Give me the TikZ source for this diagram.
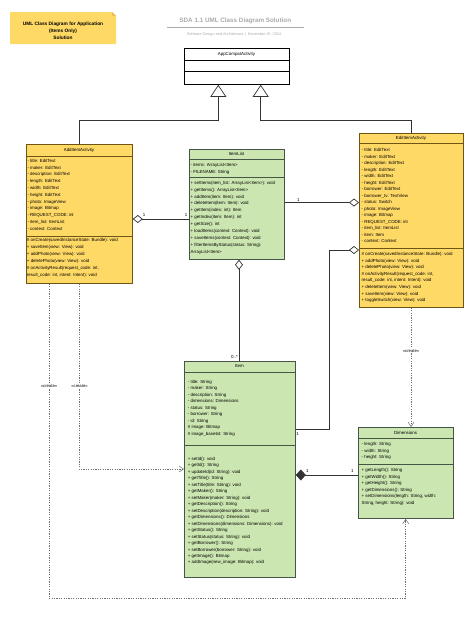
\documentclass[tikz,border=0pt]{standalone}
\usepackage{fontspec}
\setmainfont{Liberation Sans}
\usetikzlibrary{arrows.meta}
\definecolor{ylw}{RGB}{255,217,102}
\definecolor{ylwb}{RGB}{110,85,20}
\definecolor{grn}{RGB}{203,230,176}
\definecolor{grnb}{RGB}{70,85,70}
\definecolor{ttl}{RGB}{170,170,170}
\definecolor{dep}{RGB}{110,110,110}
\begin{document}
\begin{tikzpicture}[x=1pt,y=-1pt,
  boxbase/.style={rectangle, inner sep=0pt, line width=0.8pt, anchor=north west},
  ybox/.style={boxbase, draw=ylwb, fill=ylw},
  gbox/.style={boxbase, draw=grnb, fill=grn},
  wbox/.style={boxbase, draw=black, fill=white},
  sep/.style={line width=0.8pt},
  hdr/.style={inner sep=0pt, font=\fontsize{4.4}{5}\selectfont},
  txt/.style={inner sep=0pt, anchor=north west, align=left, font=\fontsize{4.4}{#1}\selectfont},
  txt/.default=6.5,
  lbl/.style={inner sep=0pt, font=\fontsize{4.4}{5}\selectfont},
  crt/.style={inner sep=0.6pt, fill=white, font=\fontsize{4.2}{5}\selectfont},
  assoc/.style={line width=0.7pt, draw=black!80},
  aggr/.style={assoc, {Diamond[open,length=10pt,width=8pt,line width=0.7pt]}-},
  comp/.style={assoc, {Diamond[length=10pt,width=11pt]}-},
  gen/.style={assoc, -{Triangle[open,length=12pt,width=16pt,line width=0.7pt]}},
  depline/.style={line width=0.55pt, draw=dep, dash pattern=on 1.2pt off 1.2pt, -{Straight Barb[length=4.5pt,width=6pt,line width=0.55pt]}}
]
\useasboundingbox (0,0) rectangle (474,632);

% note
\fill[ylw] (10,12) -- (112,12) -- (116,16) -- (116,44) -- (10,44) -- cycle;
\fill[ylw!70!brown] (112,12) -- (112,16) -- (116,16) -- cycle;
\node[inner sep=0pt, align=center, font=\fontsize{4.8}{6.7}\bfseries\selectfont] (note) at (63,30.7) {UML Class Diagram for Application\\(Items Only)\\Solution};

% title
\node[inner sep=0pt, text=ttl, font=\fontsize{6.3}{8}\bfseries\selectfont] (title) at (235.3,21) {SDA 1.1 UML Class Diagram Solution};
\draw[ttl, line width=0.9pt] (166.7,27.3) -- (304,27.3);
\node[inner sep=0pt, text=ttl, font=\fontsize{3.8}{4.5}\selectfont] (sub) at (234,35) {Software Design and Architecture \,|\, November 25, 2024};

% AppCompatActivity
\node[wbox, minimum width=105pt, minimum height=36pt] (app) at (184,48) {};
\draw[sep] (184,60) -- (289,60);
\draw[sep] (184,71.7) -- (289,71.7);
\node[hdr] (appT) at (236.5,54) {AppCompatActivity};

% AddItemActivity
\node[ybox, minimum width=106pt, minimum height=139pt] (add) at (26,144) {};
\draw[sep, ylwb] (26,156) -- (132,156);
\draw[sep, ylwb] (26,236.7) -- (132,236.7);
\node[hdr] (addT) at (79,150) {AddItemActivity};
\node[txt=6.8] (addA) at (27.3,158.9) {- title: EditText\\- maker: EditText\\- description: EditText\\- length: EditText\\- width: EditText\\- height: EditText\\- photo: ImageView\\- image: Bitmap\\- REQUEST\_CODE: int\\- item\_list: ItemList\\- context: Context};
\node[txt=6.9] (addM) at (26.8,238.4) {\# onCreate(savedInstanceState: Bundle): void\\+ saveItem(view: View): void\\+ addPhoto(view: View): void\\+ deletePhoto(view: View): void\\\# onActivityResult(request\_code: int,\\result\_code: int, intent: Intent): void};

% ItemList
\node[gbox, minimum width=95pt, minimum height=110pt] (list) at (189,149) {};
\draw[sep, grnb] (189,159) -- (284,159);
\draw[sep, grnb] (189,177) -- (284,177);
\node[hdr] (listT) at (236.5,154) {ItemList};
\node[txt=7.2] (listA) at (190.5,163.2) {- items: ArrayList<Item>\\- FILENAME: String};
\node[txt=6.9] (listM) at (190.5,180.9) {+ setItems(item\_list: ArrayList<Item>): void\\+ getItems(): ArrayList<Item>\\+ addItem(item: Item): void\\+ deleteItem(item: Item): void\\+ getItem(index: int): Item\\+ getIndex(item: Item): int\\+ getSize(): int\\+ loadItems(context: Context): void\\+ saveItems(context: Context): void\\+ filterItemsByStatus(status: String):\\ArrayList<Item>};

% EditItemActivity
\node[ybox, minimum width=104pt, minimum height=174pt] (edit) at (359,133) {};
\draw[sep, ylwb] (359,143) -- (463,143);
\draw[sep, ylwb] (359,248) -- (463,248);
\node[hdr] (editT) at (411,138) {EditItemActivity};
\node[txt=6.5] (editA) at (361.5,148.2) {- title: EditText\\- maker: EditText\\- description: EditText\\- length: EditText\\- width: EditText\\- height: EditText\\- borrower: EditText\\- borrower\_tv: TextView\\- status: Switch\\- photo: ImageView\\- image: Bitmap\\- REQUEST\_CODE: int\\- item\_list: ItemList\\- item: Item\\- context: Context};
\node[txt=6.52] (editM) at (361.5,252.5) {\# onCreate(savedInstanceState: Bundle): void\\+ addPhoto(view: View): void\\+ deletePhoto(view: View): void\\\# onActivityResult(request\_code: int,\\result\_code: int, intent: Intent): void\\+ deleteItem(view: View): void\\+ saveItem(view: View): void\\+ toggleSwitch(view: View): void};

% Item
\node[gbox, minimum width=111pt, minimum height=216pt] (item) at (184,361) {};
\draw[sep, grnb] (184,372) -- (295,372);
\draw[sep, grnb] (184,445) -- (295,445);
\node[hdr] (itemT) at (239.5,366.5) {Item};
\node[txt=6.5] (itemA) at (187.7,379.9) {- title: String\\- maker: String\\- description: String\\- dimensions: Dimensions\\- status: String\\- borrower: String\\- id: String\\\# image: Bitmap\\\# image\_base64: String};
\node[txt=6.48] (itemM) at (187.7,456.9) {+ setId(): void\\+ getId(): String\\+ updateId(id: String): void\\+ getTitle(): String\\+ setTitle(title: String): void\\+ getMaker(): String\\+ setMaker(maker: String): void\\+ getDescription(): String\\+ setDescription(description: String): void\\+ getDimensions(): Dimensions\\+ setDimensions(dimensions: Dimensions): void\\+ getStatus(): String\\+ setStatus(status: String): void\\+ getBorrower(): String\\+ setBorrower(borrower: String): void\\+ getImage(): Bitmap\\+ addImage(new\_image: Bitmap): void};

% Dimensions
\node[gbox, minimum width=95pt, minimum height=91pt] (dim) at (358,427) {};
\draw[sep, grnb] (358,438) -- (453,438);
\draw[sep, grnb] (358,464) -- (453,464);
\node[hdr] (dimT) at (405.5,432.5) {Dimensions};
\node[txt=6.5] (dimA) at (361.5,442.2) {- length: String\\- width: String\\- height: String};
\node[txt=6.5] (dimM) at (361.5,468.5) {+ getLength(): String\\+ getWidth(): String\\+ getHeight(): String\\+ getDimensions(): String\\+ setDimensions(length: String, width:\\String, height: String): void};

% helper coordinates
\coordinate (gy) at (0,120);
\coordinate (gl) at (218.3,0);
\coordinate (gr) at (260.7,0);
\coordinate (ya) at (0,219);
\coordinate (yb) at (0,202.5);
\coordinate (yc) at (0,250);
\coordinate (yd) at (0,429);
\coordinate (ye) at (0,475);
\coordinate (yf) at (0,469);
\coordinate (yg) at (0,598);
\coordinate (xa) at (79,0);
\coordinate (xb) at (49,0);
\coordinate (xc) at (411,0);
\coordinate (xd) at (329.3,0);
\coordinate (xe) at (239,0);
\coordinate (xf) at (405.7,0);

% generalizations
\draw[gen] (add.north -| xa) |- (gy -| gl) -- (app.south -| gl);
\draw[gen] (edit.north -| xc) |- (gy -| gr) -- (app.south -| gr);

% aggregations
\draw[aggr] (add.east |- ya) -- (list.west |- ya);
\draw[aggr] (edit.west |- yb) -- (list.east |- yb);
\draw[aggr] (list.south -| xe) -- (item.north -| xe);
\draw[aggr] (edit.west |- yc) -| (xd |- yd) -- (item.east |- yd);
\draw[comp] (item.east |- ye) -- (dim.west |- ye);

% multiplicities
\node[lbl] (m1) at (144,215) {1};
\node[lbl] (m2) at (186,215) {1};
\node[lbl] (m3) at (298.3,199.5) {1};
\node[lbl, anchor=east] (m4) at (238,357) {0..*};
\node[lbl] (m5) at (297.7,433.7) {1};
\node[lbl] (m6) at (307.3,470.5) {1};
\node[lbl] (m7) at (352.3,470.5) {1};

% dependencies
\draw[depline] (edit.south -| xc) -- (dim.north -| xc);
\draw[depline] (add.south -| xa) |- (item.west |- yf);
\draw[depline] (add.south -| xb) |- (xf |- yg) -- (dim.south -| xf);
\node[crt] (c1) at (411,351) {<<create>>};
\node[crt] (c2) at (79.5,386) {<<create>>};
\node[crt] (c3) at (49,386) {<<create>>};
\end{tikzpicture}
\end{document}
